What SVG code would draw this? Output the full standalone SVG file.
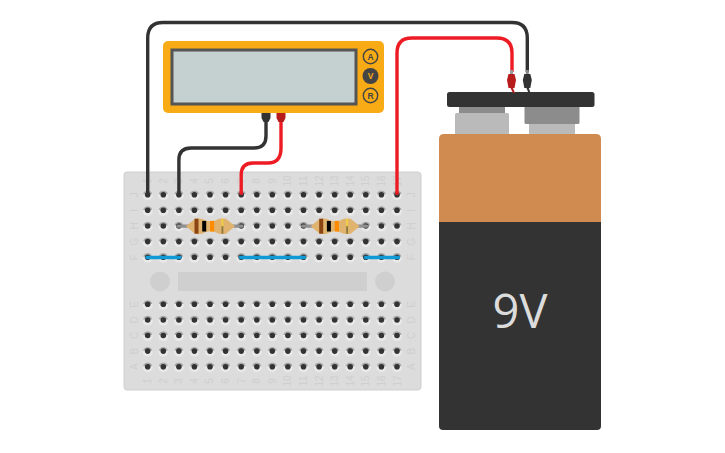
<svg xmlns="http://www.w3.org/2000/svg" xmlns:xlink="http://www.w3.org/1999/xlink" width="725" height="453" viewBox="0 0 725 453">
<style>
.lbl{font-family:"Liberation Sans",Arial,sans-serif;font-size:10px;fill:#cfcfcf;text-anchor:middle}
.wire{fill:none;stroke-width:3.4;stroke-linecap:butt}
.blk{stroke:#333}
.red{stroke:#ed1c24}
.jump{fill:none;stroke:#0f9ad6;stroke-width:3.6;stroke-linecap:round}
.btn{font-family:"Liberation Sans",Arial,sans-serif;font-size:8.5px;font-weight:bold;text-anchor:middle}
</style>
<defs>
<g id="hole"><ellipse cx="0" cy="0.6" rx="5" ry="5" fill="#e9e9e9"/><path d="M-4.6 -0.4A4.7 4.7 0 0 1 4.6 -0.4Z" fill="#a9a9a9"/><circle r="2.8" fill="#333"/></g>
<g id="row">
<use href="#hole" x="147.7"/><use href="#hole" x="163.3"/><use href="#hole" x="178.9"/><use href="#hole" x="194.4"/><use href="#hole" x="210"/><use href="#hole" x="225.6"/><use href="#hole" x="241.2"/><use href="#hole" x="256.8"/><use href="#hole" x="272.3"/><use href="#hole" x="287.9"/><use href="#hole" x="303.5"/><use href="#hole" x="319.1"/><use href="#hole" x="334.7"/><use href="#hole" x="350.2"/><use href="#hole" x="365.8"/><use href="#hole" x="381.4"/><use href="#hole" x="397"/>
</g>
<g id="resistor">
<path d="M-32 0H32" stroke="#8f8f8f" stroke-width="3.2" stroke-linecap="round"/>
<path d="M-24 0L-15 -7.5Q-12 -8 -8 -7.5Q-4 -5 0 -5Q5 -5 9 -7.5Q13 -8 16 -7.5L25 0L16 7.5Q13 8 9 7.5Q5 5 0 5Q-4 5 -8 7.5Q-12 8 -15 7.5Z" fill="#e0b36f"/>
<rect x="-15.500" y="-7.500" width="4" height="15" fill="#8b4513"/>
<rect x="-7.800" y="-5.300" width="4" height="10.600" fill="#000"/>
<rect x="0" y="-5.300" width="4.200" height="10.600" fill="#ff8c00"/>
<rect x="11.500" y="-7.500" width="1.800" height="7.500" fill="#f0d040"/>
<rect x="11.500" y="0" width="1.800" height="7.500" fill="#8c7a3a"/>
</g>
</defs>

<g id="breadboard">
<rect x="124" y="172" width="297" height="218" rx="3" fill="#dcdcdc" stroke="#cfcfcf"/>
<rect x="178" y="272" width="189" height="19" fill="#cfcfcf"/>
<circle cx="160" cy="281.500" r="10" fill="#cfcfcf"/>
<circle cx="385" cy="281.500" r="10" fill="#cfcfcf"/>
<use href="#row" y="194.700"/><use href="#row" y="210.300"/><use href="#row" y="226"/><use href="#row" y="241.600"/><use href="#row" y="257.200"/>
<use href="#row" y="304.300"/><use href="#row" y="320"/><use href="#row" y="335.500"/><use href="#row" y="351.100"/><use href="#row" y="366.700"/>
<g class="lbl">
<text transform="translate(151,181) rotate(-90)">1</text><text transform="translate(166.600,181) rotate(-90)">2</text><text transform="translate(182.200,181) rotate(-90)">3</text><text transform="translate(197.800,181) rotate(-90)">4</text><text transform="translate(213.400,181) rotate(-90)">5</text><text transform="translate(229,181) rotate(-90)">6</text><text transform="translate(244.600,181) rotate(-90)">7</text><text transform="translate(260.200,181) rotate(-90)">8</text><text transform="translate(275.800,181) rotate(-90)">9</text><text transform="translate(291.400,181) rotate(-90)">10</text><text transform="translate(307,181) rotate(-90)">11</text><text transform="translate(322.600,181) rotate(-90)">12</text><text transform="translate(338.200,181) rotate(-90)">13</text><text transform="translate(353.800,181) rotate(-90)">14</text><text transform="translate(369.400,181) rotate(-90)">15</text><text transform="translate(385,181) rotate(-90)">16</text><text transform="translate(400.600,181) rotate(-90)">17</text>
<text transform="translate(151,381) rotate(-90)">1</text><text transform="translate(166.600,381) rotate(-90)">2</text><text transform="translate(182.200,381) rotate(-90)">3</text><text transform="translate(197.800,381) rotate(-90)">4</text><text transform="translate(213.400,381) rotate(-90)">5</text><text transform="translate(229,381) rotate(-90)">6</text><text transform="translate(244.600,381) rotate(-90)">7</text><text transform="translate(260.200,381) rotate(-90)">8</text><text transform="translate(275.800,381) rotate(-90)">9</text><text transform="translate(291.400,381) rotate(-90)">10</text><text transform="translate(307,381) rotate(-90)">11</text><text transform="translate(322.600,381) rotate(-90)">12</text><text transform="translate(338.200,381) rotate(-90)">13</text><text transform="translate(353.800,381) rotate(-90)">14</text><text transform="translate(369.400,381) rotate(-90)">15</text><text transform="translate(385,381) rotate(-90)">16</text><text transform="translate(400.600,381) rotate(-90)">17</text>
<text transform="translate(138,194.700) rotate(-90)">J</text><text transform="translate(138,210.300) rotate(-90)">I</text><text transform="translate(138,226) rotate(-90)">H</text><text transform="translate(138,241.600) rotate(-90)">G</text><text transform="translate(138,257.200) rotate(-90)">F</text><text transform="translate(138,304.300) rotate(-90)">E</text><text transform="translate(138,320) rotate(-90)">D</text><text transform="translate(138,335.500) rotate(-90)">C</text><text transform="translate(138,351.100) rotate(-90)">B</text><text transform="translate(138,366.700) rotate(-90)">A</text>
<text transform="translate(415,194.700) rotate(-90)">J</text><text transform="translate(415,210.300) rotate(-90)">I</text><text transform="translate(415,226) rotate(-90)">H</text><text transform="translate(415,241.600) rotate(-90)">G</text><text transform="translate(415,257.200) rotate(-90)">F</text><text transform="translate(415,304.300) rotate(-90)">E</text><text transform="translate(415,320) rotate(-90)">D</text><text transform="translate(415,335.500) rotate(-90)">C</text><text transform="translate(415,351.100) rotate(-90)">B</text><text transform="translate(415,366.700) rotate(-90)">A</text>
</g>
</g>

<g id="battery">
<rect x="459" y="106" width="46" height="9" fill="#8c8c8c"/>
<rect x="455" y="113" width="54" height="22" rx="1.500" fill="#bababa"/>
<rect x="529" y="122" width="46" height="13" fill="#bababa"/>
<rect x="524.500" y="105" width="55" height="19" rx="1.500" fill="#8c8c8c"/>
<rect x="447" y="92" width="147.500" height="15" rx="2.500" fill="#333"/>
<path d="M439 222V139Q439 134 444 134H596Q601 134 601 139V222Z" fill="#d08c50"/>
<path d="M439 222H601V426Q601 430 597 430H443Q439 430 439 426Z" fill="#333"/>
<text x="520" y="328" font-family="Open Sans, Liberation Sans, sans-serif" font-size="47" fill="#dcdcdc" text-anchor="middle">9V</text>
</g>

<g id="multimeter">
<rect x="163" y="41" width="221" height="72" rx="5" fill="#f9ab16"/>
<rect x="172" y="50" width="184" height="54" fill="#c5d0d0" stroke="#555" stroke-width="3"/>
<circle cx="370.500" cy="56.500" r="7.200" fill="none" stroke="#444" stroke-width="1.400"/>
<text x="370.500" y="59.600" class="btn" fill="#444">A</text>
<circle cx="370.500" cy="76" r="8" fill="#444"/>
<text x="370.500" y="79.100" class="btn" fill="#f9ab16">V</text>
<circle cx="370.500" cy="95.500" r="7.200" fill="none" stroke="#444" stroke-width="1.400"/>
<text x="370.500" y="98.600" class="btn" fill="#444">R</text>
</g>

<g id="resistor1"><use href="#resistor" x="210" y="226.200"/></g>
<g id="resistor2"><use href="#resistor" x="334.700" y="226.200"/></g>

<g id="connectors">
<path class="jump" d="M147 257.500H180"/>
<path class="jump" d="M240.500 257.500H304.500"/>
<path class="jump" d="M365.500 257.500H398.500"/>
<path class="wire blk" d="M147.700 194.700V38Q147.700 22.500 163 22.500H512Q527.300 22.500 527.300 38V72"/>
<path class="wire red" d="M397 194.700V53Q397 38 412 38H497Q512 38 512 53V72"/>
<path class="wire blk" d="M266 120V136Q266 148 254 148H191Q178.900 148 178.900 160V194.700"/>
<path class="wire red" d="M281 120V148Q281 163 268 163H253Q241.200 163 241.200 175V194.700"/>
<g id="clip-red"><path d="M510 70h3v4h-3z" fill="#9a9a9a"/><path d="M508.500 74H514.500L516 80L514.500 88H508.500L507 80Z" fill="#b71c1c"/><path d="M510 87L512.500 87L515 93H513Z" fill="#b71c1c"/></g>
<g id="clip-black"><path d="M525.800 70h3v4h-3z" fill="#8a8a8a"/><path d="M524.300 74H530.300L531.800 80L530.300 88H524.300L522.800 80Z" fill="#333"/><path d="M526 87L528.500 87L530.500 93H528.500Z" fill="#333"/></g>
<g id="probe-black"><path d="M261.500 113H270.500V118L268.500 122H263.500L261.500 118Z" fill="#333"/></g>
<g id="probe-red"><path d="M276.500 113H285.500V118L283.500 122H278.500L276.500 118Z" fill="#b71c1c"/></g>
</g>
</svg>
